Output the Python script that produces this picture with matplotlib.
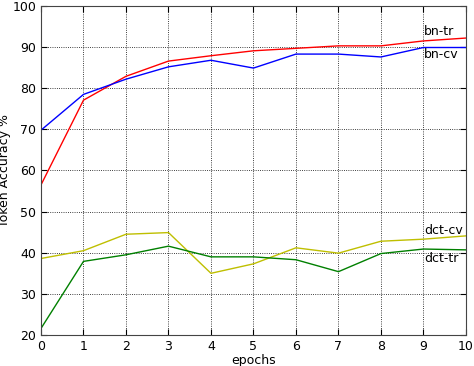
import matplotlib
matplotlib.use("Agg")
import matplotlib.pyplot as plt

epochs = list(range(11))
bn_tr = [56.5, 77.1, 82.9, 86.6, 87.9, 89.1, 89.7, 90.3, 90.3, 91.5, 92.2]
bn_cv = [69.8, 78.5, 82.2, 85.2, 86.8, 84.9, 88.3, 88.3, 87.6, 89.9, 89.9]
dct_cv = [38.6, 40.5, 44.5, 44.9, 35.0, 37.3, 41.2, 39.9, 42.8, 43.3, 44.1]
dct_tr = [21.6, 37.9, 39.5, 41.6, 39.0, 39.0, 38.3, 35.4, 39.8, 40.9, 40.7]
labels = ["bn-tr", "bn-cv", "dct-cv", "dct-tr"]

fig = plt.figure(figsize=(4.74, 3.66), dpi=100)
ax = fig.add_axes([0.0865, 0.0847, 0.8965, 0.899])
ax.plot(epochs, bn_tr, color='r', lw=1)
ax.plot(epochs, bn_cv, color='b', lw=1)
ax.plot(epochs, dct_cv, color='y', lw=1)
ax.plot(epochs, dct_tr, color='g', lw=1)

ax.text(9.02, 93.9, labels[0], fontsize=9, va='center', ha='left')
ax.text(9.02, 88.1, labels[1], fontsize=9, va='center', ha='left')
ax.text(9.02, 45.5, labels[2], fontsize=9, va='center', ha='left')
ax.text(9.02, 38.7, labels[3], fontsize=9, va='center', ha='left')

ax.set_xlim(0, 10)
ax.set_ylim(20, 100)
ax.set_xticks(range(0, 11))
ax.set_yticks(range(20, 101, 10))
ax.grid(True, color='k', linestyle=':', linewidth=0.6)
for s in ax.spines.values():
    s.set_color('#444444')
ax.tick_params(direction='in', labelsize=9, length=4, top=True, right=True)
ax.set_xlabel("epochs", fontsize=9, labelpad=1)
ax.set_ylabel("Token Accuracy %", fontsize=9, labelpad=1)
fig.savefig("out.png", dpi=100)
